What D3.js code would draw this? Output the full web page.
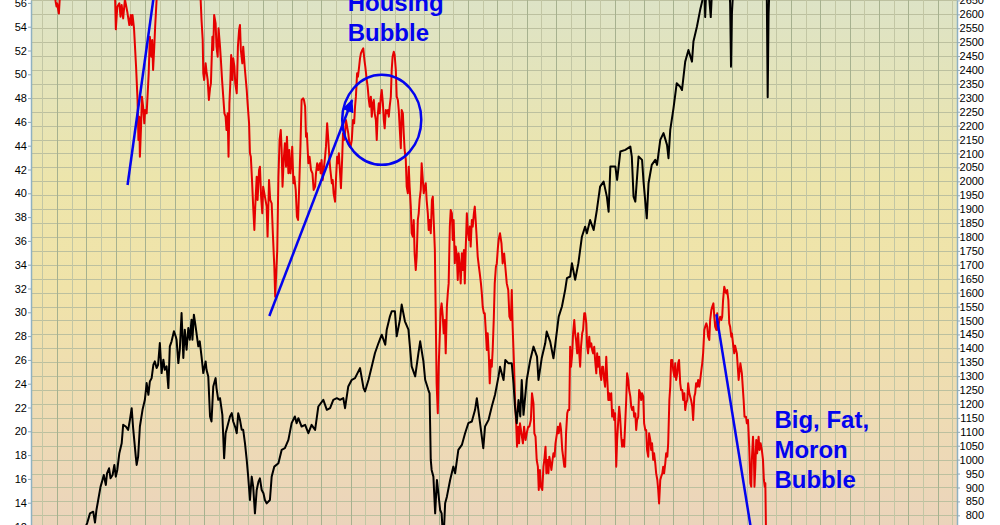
<!DOCTYPE html>
<html>
<head>
<meta charset="utf-8">
<script src="https://cdn.jsdelivr.net/npm/d3@7"></script>
<style>
  body { margin: 0; background: #fff; }
  svg { display: block; }
  .tick text { font-family: "Liberation Sans", Arial, sans-serif; font-size: 11px; fill: #000; }
</style>
</head>
<body>
<script>
// tick values
const LEFT_TICKS = d3.range(12, 57, 2)
const RIGHT_TICKS = d3.range(800, 2651, 50)

// S&P 500 (black, right axis) as [year, value]
const spx = [
  [1995.10,470],[1995.6,560],[1996.0,610],[1996.5,650],[1996.9,740],
  [1997.03,774],[1997.12,807],[1997.23,813],[1997.29,774],[1997.34,819],[1997.40,855],[1997.48,903],[1997.53,921],[1997.59,945],[1997.66,909],[1997.70,951],[1997.77,969],[1997.82,933],[1997.89,945],[1997.95,981],[1998.00,939],[1998.05,963],[1998.12,1023],[1998.20,1059],[1998.25,1125],[1998.34,1119],[1998.42,1107],[1998.48,1143],[1998.54,1185],[1998.59,1113],[1998.68,1011],[1998.71,981],[1998.76,1011],[1998.82,1119],[1998.91,1179],[1998.99,1215],
  [1999.05,1275],[1999.11,1233],[1999.16,1281],[1999.22,1293],[1999.28,1341],[1999.33,1353],[1999.39,1329],[1999.44,1341],[1999.50,1419],[1999.56,1311],[1999.62,1359],[1999.67,1323],[1999.73,1335],[1999.79,1257],[1999.84,1407],[1999.90,1425],[1999.98,1461],[2000.04,1443],[2000.07,1431],[2000.13,1347],[2000.18,1395],[2000.24,1527],[2000.30,1365],[2000.35,1467],[2000.41,1395],[2000.47,1473],[2000.52,1431],[2000.58,1503],[2000.61,1431],[2000.66,1521],[2000.71,1485],[2000.81,1407],[2000.86,1425],[2000.92,1371],[2000.98,1311],
  [2001.06,1353],[2001.09,1323],[2001.15,1299],[2001.21,1155],[2001.26,1137],[2001.32,1263],[2001.40,1293],[2001.43,1257],[2001.49,1215],[2001.55,1221],[2001.63,1161],[2001.69,1005],[2001.74,1095],[2001.83,1131],[2001.89,1155],[2001.95,1167],[2002.00,1137],[2002.08,1113],[2002.12,1095],[2002.17,1167],[2002.23,1143],[2002.29,1107],[2002.34,1107],[2002.40,1059],[2002.46,999],[2002.51,939],[2002.57,855],[2002.63,939],[2002.68,903],[2002.74,807],[2002.80,891],[2002.86,921],[2002.91,933],[2002.97,891],
  [2003.03,879],[2003.08,855],[2003.14,843],[2003.25,855],[2003.31,939],[2003.40,975],[2003.54,987],[2003.65,1035],[2003.76,1041],[2003.88,1071],[2003.99,1131],[2004.10,1155],[2004.16,1131],[2004.22,1149],[2004.33,1119],[2004.45,1125],[2004.56,1095],[2004.67,1125],[2004.79,1107],[2004.90,1191],[2005.07,1215],[2005.19,1179],[2005.30,1185],[2005.41,1215],[2005.53,1221],[2005.64,1215],[2005.75,1221],[2005.81,1185],[2005.92,1263],
  [2006.04,1287],[2006.15,1293],[2006.32,1329],[2006.44,1257],[2006.49,1245],[2006.61,1287],[2006.72,1335],[2006.83,1383],[2006.95,1419],[2007.06,1449],[2007.18,1413],[2007.23,1467],[2007.34,1515],[2007.40,1533],[2007.51,1533],[2007.57,1443],[2007.68,1503],[2007.74,1557],[2007.85,1497],[2007.97,1467],[2008.08,1335],[2008.20,1299],[2008.31,1383],[2008.37,1425],[2008.48,1353],[2008.54,1287],[2008.65,1250],[2008.69,1238],[2008.73,1000],[2008.76,963],[2008.82,939],[2008.88,807],[2008.94,927],[2008.99,879],
  [2009.05,819],[2009.10,807],[2009.16,700],[2009.22,843],[2009.28,867],[2009.39,927],[2009.50,975],[2009.56,951],[2009.67,1035],[2009.79,1053],[2009.90,1095],[2010.01,1131],[2010.13,1137],[2010.24,1179],[2010.30,1221],[2010.41,1131],[2010.52,1041],[2010.58,1119],[2010.70,1143],[2010.81,1191],[2010.92,1233],[2011.04,1299],[2011.09,1334],
  [2011.21,1286],[2011.27,1358],[2011.38,1346],[2011.49,1346],[2011.55,1274],[2011.60,1190],[2011.66,1131],[2011.72,1214],[2011.78,1155],[2011.83,1286],[2011.89,1161],[2012.00,1286],[2012.12,1358],[2012.23,1406],[2012.35,1370],[2012.40,1286],[2012.51,1364],[2012.63,1418],[2012.68,1460],[2012.80,1424],[2012.91,1364],[2012.97,1412],
  [2013.09,1514],[2013.20,1550],[2013.31,1610],[2013.37,1652],[2013.48,1658],[2013.54,1706],[2013.65,1646],[2013.76,1706],[2013.88,1801],[2013.99,1837],[2014.05,1813],[2014.16,1861],[2014.28,1825],[2014.39,1897],[2014.50,1981],[2014.62,1999],[2014.73,1945],[2014.79,1891],[2014.85,2053],[2015.02,2053],[2015.08,2005],[2015.19,2107],[2015.36,2113],[2015.53,2125],[2015.58,2089],[2015.64,1945],[2015.70,1927],[2015.81,2089],[2015.93,2077],[2015.98,1999],
  [2016.09,1867],[2016.15,1993],[2016.26,2059],[2016.38,2077],[2016.44,2059],[2016.55,2149],[2016.66,2173],[2016.78,2131],[2016.83,2083],[2016.89,2185],[2017.00,2262],[2017.11,2352],[2017.23,2340],[2017.29,2328],[2017.40,2430],[2017.51,2472],[2017.63,2430],[2017.68,2502],[2017.80,2556],[2017.91,2616],[2017.99,2652],
  [2018.04,2780],[2018.08,2590],[2018.13,2730],[2018.20,2680],[2018.27,2590],[2018.33,2720],[2018.50,2790],[2018.70,2900],[2018.82,2780],[2018.90,2700],[2018.93,2640],[2018.96,2412],[2018.99,2600],[2019.03,2680],[2019.20,2820],[2019.50,2950],[2019.80,3050],[2020.10,3300],[2020.16,2900],[2020.21,2302],[2020.24,2600],[2020.30,2800]
]

// red ratio line (left axis) as [year, value]
const ratio = [
  [1995.10,57.6],[1995.5,58.5],[1995.90,57.0],[1995.95,56.1],[1995.98,55.7],[1996.00,55.95],[1996.03,55.5],[1996.06,55.1],[1996.09,56.4],[1996.2,57.8],[1996.8,59.5],[1997.5,58.5],[1997.97,57.0],
  [1998.00,53.78],[1998.05,55.68],[1998.12,55.96],[1998.16,54.84],[1998.20,55.82],[1998.25,54.70],[1998.31,56.3],[1998.39,55.26],[1998.46,54.14],[1998.51,54.98],[1998.54,54.14],[1998.57,54.98],[1998.62,53.86],[1998.69,50.64],[1998.74,47.84],[1998.77,44.48],[1998.80,46.44],[1998.82,43.08],[1998.86,45.60],[1998.89,48.12],[1998.93,47.28],[1998.97,45.88],
  [1999.00,47.00],[1999.05,46.72],[1999.08,48.12],[1999.12,50.08],[1999.16,53.16],[1999.21,51.48],[1999.24,52.88],[1999.27,50.36],[1999.31,52.32],[1999.34,54.00],[1999.39,56.3],[1999.5,57.6],[2000.0,59],[2000.6,58.5],[2000.86,56.8],
  [2000.89,56.3],[2000.92,54.56],[2000.96,52.88],[2000.98,50.08],[2001.01,49.52],[2001.06,50.92],[2001.09,50.22],[2001.13,49.52],[2001.17,47.84],[2001.21,48.82],[2001.24,49.24],[2001.29,53.16],[2001.32,52.04],[2001.35,54.98],[2001.40,54.28],[2001.43,52.32],[2001.47,51.48],[2001.50,53.86],[2001.55,52.32],[2001.58,51.20],[2001.62,49.52],[2001.66,48.12],[2001.70,46.72],[2001.74,46.44],[2001.77,45.32],[2001.81,46.72],[2001.84,43.08],[2001.87,47.56],[2001.90,49.24],[2001.93,51.62],[2001.97,49.52],
  [2002.00,51.34],[2002.04,50.64],[2002.07,49.24],[2002.12,48.40],[2002.16,52.32],[2002.20,53.72],[2002.23,54.14],[2002.26,52.04],[2002.31,50.92],[2002.34,52.32],[2002.40,50.36],[2002.46,48.68],[2002.49,47.56],[2002.54,45.88],[2002.57,43.36],[2002.60,43.08],[2002.64,41.12],[2002.68,38.88],[2002.72,36.92],[2002.75,38.88],[2002.80,41.40],[2002.83,39.44],[2002.88,41.96],[2002.91,42.24],[2002.95,39.72],[2002.99,38.32],[2003.02,40.56],
  [2003.08,39.72],[2003.14,38.88],[2003.17,36.36],[2003.22,41.12],[2003.26,39.44],[2003.31,39.16],[2003.35,36.64],[2003.40,33.83],[2003.43,31.31],[2003.47,33.55],[2003.50,35.23],[2003.54,41.40],[2003.58,44.48],[2003.62,45.32],[2003.65,43.64],[2003.68,40.56],[2003.72,42.80],[2003.76,44.20],[2003.80,42.24],[2003.83,44.76],[2003.88,41.68],[2003.91,43.64],[2003.95,41.68],[2003.99,42.80],
  [2004.01,43.92],[2004.05,40.84],[2004.08,41.40],[2004.13,40.28],[2004.17,38.04],[2004.21,37.76],[2004.24,40.00],[2004.29,43.92],[2004.33,47.84],[2004.38,47.98],[2004.41,47.84],[2004.45,47.28],[2004.48,44.76],[2004.51,45.04],[2004.56,42.52],[2004.60,43.08],[2004.65,41.96],[2004.70,41.68],[2004.74,40.28],[2004.79,40.56],[2004.82,41.68],[2004.86,42.52],[2004.90,41.96],[2004.95,42.52],[2004.98,41.68],
  [2005.01,42.80],[2005.05,41.12],[2005.08,41.96],[2005.13,43.08],[2005.16,43.92],[2005.20,45.88],[2005.24,44.48],[2005.28,42.80],[2005.31,41.96],[2005.36,40.84],[2005.39,41.12],[2005.42,40.00],[2005.47,39.30],[2005.50,41.12],[2005.54,43.08],[2005.57,42.52],[2005.60,43.36],[2005.64,41.68],[2005.67,40.42],[2005.71,42.80],[2005.74,45.04],[2005.78,44.48],[2005.81,45.04],[2005.84,46.16],[2005.88,45.60],[2005.92,45.04],[2005.97,43.92],
  [2006.00,43.92],[2006.04,44.48],[2006.08,46.16],[2006.12,45.88],[2006.15,47.28],[2006.18,48.12],[2006.22,50.08],[2006.25,49.80],[2006.29,50.64],[2006.32,51.34],[2006.35,51.76],[2006.40,52.04],[2006.43,52.18],[2006.47,51.20],[2006.50,50.64],[2006.55,49.52],[2006.58,48.96],[2006.62,47.84],[2006.65,47.28],[2006.69,48.12],[2006.72,46.44],[2006.76,47.56],[2006.79,47.84],[2006.82,46.72],[2006.86,46.16],[2006.89,44.48],[2006.92,46.44],[2006.96,47.56],[2006.99,46.72],
  [2007.03,48.12],[2007.06,48.68],[2007.10,47.56],[2007.13,46.16],[2007.16,45.46],[2007.20,47.00],[2007.23,46.72],[2007.27,47.00],[2007.30,46.44],[2007.33,47.28],[2007.37,48.12],[2007.40,50.36],[2007.43,51.48],[2007.47,51.90],[2007.50,51.62],[2007.54,50.36],[2007.57,48.12],[2007.61,47.84],[2007.64,47.00],[2007.67,45.60],[2007.71,43.78],[2007.74,47.00],[2007.78,46.72],[2007.81,45.04],[2007.84,43.64],[2007.88,42.80],[2007.91,40.56],[2007.95,40.00],[2007.98,42.24],
  [2008.01,40.56],[2008.05,38.88],[2008.08,36.64],[2008.12,36.36],[2008.15,37.76],[2008.18,34.96],[2008.22,33.55],[2008.25,34.68],[2008.29,37.76],[2008.32,38.32],[2008.35,39.44],[2008.39,40.28],[2008.42,42.52],[2008.46,41.12],[2008.49,40.00],[2008.53,40.56],[2008.56,40.84],[2008.59,39.44],[2008.63,38.32],[2008.66,36.92],[2008.70,37.76],[2008.73,36.64],[2008.77,39.44],[2008.80,39.72],[2008.83,37.76],[2008.87,35.24],[2008.90,29.63],[2008.93,24.03],[2008.97,21.51],
  [2009.00,25.43],[2009.04,28.23],[2009.07,30.19],[2009.10,30.75],[2009.14,29.63],[2009.17,28.23],[2009.21,29.35],[2009.24,26.55],[2009.28,30.47],[2009.31,31.59],[2009.34,32.43],[2009.38,37.20],[2009.41,38.60],[2009.45,38.32],[2009.48,36.08],[2009.51,37.76],[2009.55,34.12],[2009.58,35.52],[2009.62,34.68],[2009.65,32.71],[2009.68,34.96],[2009.72,33.83],[2009.75,32.43],[2009.79,34.96],[2009.82,33.55],[2009.86,35.23],[2009.89,32.43],[2009.92,35.23],[2009.96,38.32],[2009.99,36.92],
  [2010.03,36.08],[2010.06,37.20],[2010.09,35.52],[2010.13,37.76],[2010.16,37.20],[2010.20,38.32],[2010.23,38.88],[2010.26,37.76],[2010.30,36.08],[2010.33,34.68],[2010.37,33.83],[2010.40,33.27],[2010.44,32.43],[2010.47,31.59],[2010.50,30.47],[2010.54,29.91],[2010.57,29.91],[2010.61,28.23],[2010.64,26.83],[2010.67,28.23],[2010.71,26.27],[2010.74,24.03],[2010.78,25.99],[2010.81,25.43],[2010.84,26.83],[2010.88,29.63],[2010.91,32.43],[2010.95,33.83],[2010.98,34.11],
  [2011.02,35.5],[2011.05,36.2],[2011.09,36.64],[2011.14,35.79],[2011.18,34.11],[2011.23,34.95],[2011.27,33.83],[2011.32,32.43],[2011.37,31.87],[2011.41,29.63],[2011.46,29.35],[2011.49,31.87],[2011.52,28.79],[2011.57,25.43],[2011.60,22.63],[2011.64,20.67],[2011.67,18.71],[2011.71,20.39],[2011.74,18.99],[2011.77,20.67],[2011.82,19.83],[2011.87,18.99],[2011.91,20.39],[2011.96,19.27],
  [2012.00,19.83],[2012.05,20.39],[2012.09,20.39],[2012.14,20.95],[2012.18,23.19],[2012.23,22.35],[2012.26,19.83],[2012.30,19.55],[2012.34,17.59],[2012.38,17.03],[2012.41,15.07],[2012.45,16.75],[2012.48,15.35],[2012.53,15.07],[2012.57,17.03],[2012.60,17.59],[2012.64,18.71],[2012.67,16.47],[2012.71,17.59],[2012.74,16.47],[2012.77,17.87],[2012.81,17.31],[2012.84,16.75],[2012.88,17.59],[2012.91,18.15],[2012.95,17.87],[2012.98,18.99],
  [2013.03,19.83],[2013.06,20.39],[2013.09,19.83],[2013.14,20.67],[2013.17,20.11],[2013.21,18.43],[2013.24,17.87],[2013.28,17.03],[2013.31,17.03],[2013.34,19.83],[2013.38,21.51],[2013.41,21.79],[2013.45,21.79],[2013.48,27.11],[2013.51,25.43],[2013.55,26.55],[2013.58,28.23],[2013.62,29.35],[2013.65,28.23],[2013.68,27.67],[2013.72,26.55],[2013.75,28.23],[2013.79,26.55],[2013.82,25.43],[2013.85,27.11],[2013.89,28.23],[2013.92,28.51],[2013.96,29.91],[2013.99,29.91],
  [2014.03,29.07],[2014.06,27.11],[2014.09,26.55],[2014.13,27.95],[2014.16,27.11],[2014.20,27.39],[2014.23,26.83],[2014.26,26.55],[2014.30,27.11],[2014.33,25.99],[2014.37,24.87],[2014.40,26.55],[2014.43,25.43],[2014.47,26.27],[2014.50,24.87],[2014.54,24.31],[2014.57,25.43],[2014.60,25.43],[2014.64,24.31],[2014.67,23.75],[2014.71,26.27],[2014.74,24.59],[2014.78,22.63],[2014.81,23.19],[2014.84,22.63],[2014.88,23.19],[2014.91,21.23],[2014.95,21.79],[2014.98,20.95],
  [2015.01,21.51],[2015.05,17.03],[2015.08,19.27],[2015.12,20.95],[2015.15,22.07],[2015.18,21.23],[2015.22,19.55],[2015.25,18.71],[2015.29,19.27],[2015.32,18.71],[2015.36,20.95],[2015.39,22.63],[2015.42,24.87],[2015.46,24.31],[2015.49,23.47],[2015.53,22.91],[2015.56,22.07],[2015.59,21.79],[2015.63,22.07],[2015.66,21.23],[2015.70,21.51],[2015.73,20.11],[2015.76,20.95],[2015.80,21.23],[2015.83,23.47],[2015.87,23.19],[2015.90,22.63],[2015.93,23.19],[2015.97,22.91],
  [2016.00,20.67],[2016.04,20.11],[2016.07,20.11],[2016.10,18.43],[2016.14,17.87],[2016.17,19.83],[2016.21,19.27],[2016.24,18.43],[2016.27,18.99],[2016.31,17.59],[2016.34,18.15],[2016.38,17.31],[2016.41,16.47],[2016.45,15.91],[2016.48,15.07],[2016.51,13.94],[2016.55,15.91],[2016.58,16.19],[2016.62,16.47],[2016.65,17.03],[2016.68,16.47],[2016.72,17.31],[2016.75,18.15],[2016.79,17.87],[2016.82,18.99],[2016.86,22.63],[2016.89,23.75],[2016.92,25.99],[2016.96,25.99],[2016.99,25.15],
  [2017.03,24.59],[2017.06,25.71],[2017.09,24.31],[2017.13,24.87],[2017.16,25.71],[2017.19,25.99],[2017.23,24.03],[2017.26,23.47],[2017.30,23.47],[2017.33,22.63],[2017.37,23.19],[2017.40,21.79],[2017.43,22.35],[2017.47,22.63],[2017.50,24.03],[2017.54,23.19],[2017.57,22.91],[2017.60,22.63],[2017.64,22.07],[2017.67,20.95],[2017.71,22.91],[2017.74,23.19],[2017.77,24.03],[2017.81,23.75],[2017.84,24.31],[2017.88,23.75],[2017.91,24.31],[2017.95,25.15],[2017.98,25.71],
  [2018.01,26.55],[2018.05,28.51],[2018.08,28.79],[2018.12,29.07],[2018.15,28.79],[2018.18,27.95],[2018.22,27.67],[2018.25,29.35],[2018.29,30.19],[2018.32,30.47],[2018.36,30.75],[2018.39,29.63],[2018.42,28.79],[2018.46,28.51],[2018.49,29.91],[2018.52,28.51],[2018.56,29.35],[2018.59,29.63],[2018.63,29.35],[2018.66,29.63],[2018.69,31.03],[2018.73,32.15],[2018.76,31.87],[2018.80,31.59],[2018.83,31.87],[2018.87,31.03],[2018.90,29.07],[2018.93,28.79],[2018.97,27.95],[2018.99,28.23],
  [2019.04,27.11],[2019.07,26.55],[2019.10,27.2],[2019.16,26.55],[2019.22,24.31],[2019.28,25.71],[2019.33,24.87],[2019.39,22.63],[2019.42,21.23],[2019.47,21.23],[2019.50,20.67],[2019.54,20.95],[2019.58,18.71],[2019.62,15.63],[2019.65,15.35],[2019.67,17.59],[2019.71,19.55],[2019.74,17.87],[2019.76,15.35],[2019.79,17.03],[2019.82,19.27],[2019.85,18.15],[2019.90,19.55],[2019.93,18.43],[2019.97,18.99],
  [2020.01,18.43],[2020.05,17.59],[2020.08,15.91],[2020.11,15.35],[2020.13,15.63],[2020.15,12.0],[2020.20,9]
]

// annotations, in [year, left-axis value]
const arrowUp1 = [[1998.40, 40.70], [1999.37, 57.93]]
const arrowUp2 = [[2003.23, 29.69], [2006.05, 47.84]]
const arrowDown = [[2018.46, 29.83], [2019.73, 10.44]]
const bubbleCircle = { year: 2007.06, value: 46.18, dYear: 1.347, dValue: 3.78 }
const housingText = { year: 2005.90, value: 55.35, lines: ["Housing", "Bubble"] }
const moronText = { year: 2020.44, value: 20.25, lines: ["Big, Fat,", "Moron", "Bubble"] }

const m = { width: 1000, height: 525, left: 31, right: 957 }
const BLUE = "#0404ee"

const svg = d3.select("body").append("svg")
    .attr("width", m.width)
    .attr("height", m.height)

const x = d3.scaleLinear().domain([1995.11, 2026.66]).range([m.left, m.right])
const yL = d3.scaleLinear().domain([12.126, 56.244]).range([m.height, 0])
const yR = d3.scaleLinear().domain([765.2, 2651.4]).range([m.height, 0])

const defs = svg.append("defs")
const grad = defs.append("linearGradient")
    .attr("id", "bg").attr("x1", 0).attr("y1", 0).attr("x2", 0).attr("y2", 1)
grad.selectAll("stop")
  .data([["0%", "#dde3c6"], ["35%", "#ede5ab"], ["55%", "#f0e3a9"], ["80%", "#eedbb4"], ["100%", "#ebd4bb"]])
  .enter().append("stop")
    .attr("offset", d => d[0])
    .attr("stop-color", d => d[1])

defs.append("clipPath").attr("id", "plotClip")
  .append("rect")
    .attr("x", m.left).attr("y", 0)
    .attr("width", m.right - m.left).attr("height", m.height)

defs.append("marker")
    .attr("id", "head")
    .attr("markerUnits", "userSpaceOnUse")
    .attr("markerWidth", 14).attr("markerHeight", 12)
    .attr("refX", 12).attr("refY", 6)
    .attr("orient", "auto")
  .append("path")
    .attr("d", "M0,0 L13,6 L0,12 Z")
    .attr("fill", BLUE)

svg.append("rect")
    .attr("x", m.left).attr("y", 0)
    .attr("width", m.right - m.left).attr("height", m.height)
    .attr("fill", "url(#bg)")

// grid
const plot = svg.append("g").attr("clip-path", "url(#plotClip)")

plot.append("g").selectAll("line")
  .data(RIGHT_TICKS)
  .enter().append("line")
    .attr("x1", m.left).attr("x2", m.right)
    .attr("y1", d => Math.round(yR(d)) + 0.5)
    .attr("y2", d => Math.round(yR(d)) + 0.5)
    .attr("stroke", "#bcc09f")

const halfYears = d3.range(1995.5, 2027, 0.5)
plot.append("g").selectAll("line")
  .data(halfYears)
  .enter().append("line")
    .attr("x1", d => Math.round(x(d)) + 0.5)
    .attr("x2", d => Math.round(x(d)) + 0.5)
    .attr("y1", 0).attr("y2", m.height)
    .attr("stroke", d => Number.isInteger(d) ? "#a6b18f" : "#c2c6a4")

// series
const lineL = d3.line().x(d => x(d[0])).y(d => yL(d[1]))
const lineR = d3.line().x(d => x(d[0])).y(d => yR(d[1]))

plot.append("path")
    .datum(ratio)
    .attr("d", lineL)
    .attr("fill", "none")
    .attr("stroke", "#e60000")
    .attr("stroke-width", 2)
    .attr("stroke-linejoin", "round")

plot.append("path")
    .datum(spx)
    .attr("d", lineR)
    .attr("fill", "none")
    .attr("stroke", "#000")
    .attr("stroke-width", 2)
    .attr("stroke-linejoin", "round")

// annotations
const anno = svg.append("g").attr("clip-path", "url(#plotClip)")

anno.append("path").datum(arrowUp1)
    .attr("d", lineL).attr("stroke", BLUE).attr("stroke-width", 2.5).attr("fill", "none")
anno.append("path").datum(arrowUp2)
    .attr("d", lineL).attr("stroke", BLUE).attr("stroke-width", 2.5).attr("fill", "none")
    .attr("marker-end", "url(#head)")
anno.append("path").datum(arrowDown)
    .attr("d", lineL).attr("stroke", BLUE).attr("stroke-width", 2.5).attr("fill", "none")

anno.append("ellipse")
    .attr("cx", x(bubbleCircle.year))
    .attr("cy", yL(bubbleCircle.value))
    .attr("rx", x(bubbleCircle.year + bubbleCircle.dYear) - x(bubbleCircle.year))
    .attr("ry", yL(bubbleCircle.value - bubbleCircle.dValue) - yL(bubbleCircle.value))
    .attr("fill", "none")
    .attr("stroke", BLUE)
    .attr("stroke-width", 2.5)

function label(t) {
  const txt = svg.append("text")
      .attr("x", x(t.year))
      .attr("y", yL(t.value))
      .attr("fill", BLUE)
      .style("font-family", "'Liberation Sans', Arial, sans-serif")
      .style("font-weight", "bold")
      .style("font-size", "24px")
  txt.selectAll("tspan")
    .data(t.lines)
    .enter().append("tspan")
      .attr("x", x(t.year))
      .attr("dy", (d, i) => i === 0 ? 0 : 30)
      .text(d => d)
}
label(housingText)
label(moronText)

// axes
const leftAxis = svg.append("g")
    .attr("transform", `translate(${m.left},0)`)
    .call(d3.axisLeft(yL).tickValues(LEFT_TICKS).tickSize(3).tickSizeOuter(0).tickPadding(1))
const rightAxis = svg.append("g")
    .attr("transform", `translate(${m.right},0)`)
    .call(d3.axisRight(yR).tickValues(RIGHT_TICKS).tickFormat(d3.format("d")).tickSize(3).tickSizeOuter(0))
rightAxis.selectAll(".tick text").attr("text-anchor", "end").attr("x", 27)

svg.selectAll(".domain").attr("stroke", "#8fb1c1").attr("stroke-width", 1.5)
svg.selectAll(".tick line").attr("stroke", "#8fa9b6")
svg.selectAll(".tick text").attr("font-family", null)
</script>
</body>
</html>
